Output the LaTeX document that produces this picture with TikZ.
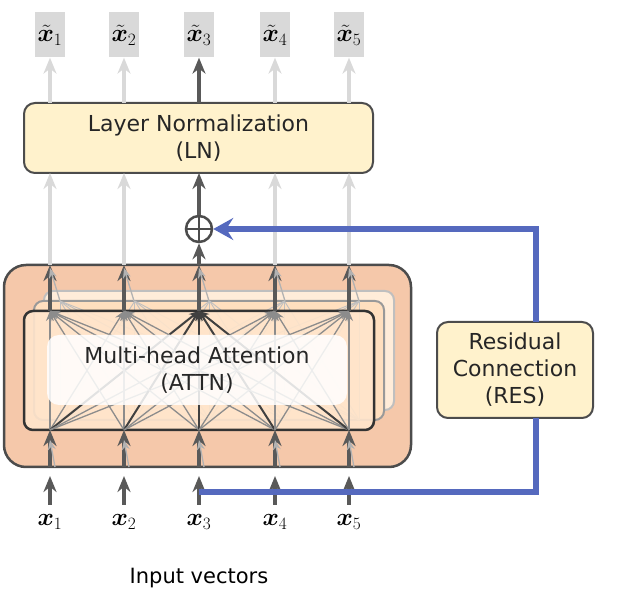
\documentclass[tikz,border=0pt]{standalone}
\usepackage{fontspec}
\usepackage{amsmath,bm}
\setmainfont{DejaVu Sans}
\usetikzlibrary{arrows.meta}
\definecolor{lnfill}{RGB}{255,242,204}
\definecolor{resblue}{RGB}{85,105,190}
\begin{document}
\begin{tikzpicture}[x=1pt,y=-1pt,
  box/.style={draw=black!70,line width=2pt,rounded corners=11pt,fill=lnfill},
  dk/.style={draw=black!65,line width=4pt,-{Stealth[length=16pt,width=13pt]}},
  lt/.style={draw=black!15,line width=4pt,-{Stealth[length=16pt,width=13pt]}},
  fan/.style={draw=black!45,line width=1.3pt,-{Stealth[length=10pt,width=8pt]}},
  lab/.style={font=\fontsize{22}{27}\selectfont,align=center,text=black!85},
  outb/.style={fill=black!15,minimum width=30pt,minimum height=45pt,inner sep=0pt,font=\fontsize{24}{28}\selectfont},
  res/.style={draw=resblue,line width=6pt}]
\useasboundingbox (0,0) rectangle (633,593);
\def\xs{50,124,199,275,349}
\foreach \x [count=\i] in \xs {\node[outb] (o\i) at (\x,35) {$\tilde{\bm{x}}_{\i}$};}
\foreach \x [count=\i] in \xs {\node[font=\fontsize{24}{28}\selectfont] (in\i) at (\x,522) {$\bm{x}_{\i}$};}
\node[font=\fontsize{21}{26}\selectfont] (iv) at (199,578) {Input vectors};
% attention block
\node[draw=black!70,line width=2.5pt,rounded corners=22pt,fill={rgb,255:red,245;green,200;blue,170},minimum width=407pt,minimum height=202pt] (attn) at (207.5,366) {};
\node[draw=black!25,line width=2pt,rounded corners=9pt,fill=white!85!orange,minimum width=350pt,minimum height=119pt] (h3) at (219,350.5) {};
\node[draw=black!40,line width=2pt,rounded corners=9pt,fill=white!75!orange,minimum width=350pt,minimum height=119pt] (h2) at (209,360.5) {};
\foreach \a in {0,1,2,3,4} \foreach \b in {0,1,2,3,4}{
  \draw[draw=black!25,line width=0.9pt] (60+74.8*\a,420)--(60+74.8*\b,301);}
\node[draw=black!80,line width=2.5pt,rounded corners=9pt,fill=white!80!orange,fill opacity=0.9,minimum width=350pt,minimum height=119pt] (h1) at (199,370.5) {};
\foreach \x [count=\i] in \xs {\coordinate (b\i) at (\x,430); \coordinate (t\i) at (\x,311);}
\foreach \i in {1,...,5} \foreach \j in {1,...,5}{
  \ifnum\j=3 \draw[fan,draw=black!75,line width=2pt] (b\i)--(t\j);
  \else \draw[fan] (b\i)--(t\j); \fi}
\node[fill=white,fill opacity=0.85,text opacity=1,rounded corners=12pt,minimum width=300pt,minimum height=70pt,lab] (al) at (197,370) {Multi-head Attention\\(ATTN)};
\foreach \x [count=\i] in \xs {
  \draw[dk] (\x,467)--(b\i);
  \draw[fan,draw=black!30] (\x+5,467)--(\x,440);
  \draw[dk] (t\i)--(\x,265);
  \draw[fan,draw=black!30] (\x+10,301)--(\x,268);
  \draw[dk] (\x,505)--(\x,476);}
% LN
\node[box,minimum width=349pt,minimum height=70pt,lab] (ln) at (198.5,138) {Layer Normalization\\(LN)};
\node[draw=black!70,line width=2.5pt,circle,fill=white,minimum size=26pt,inner sep=0pt] (add) at (199,229) {};
\draw[black!70,line width=2.5pt] (add.north)--(add.south) (add.west)--(add.east);
\foreach \x [count=\i] in \xs {
  \ifnum\i=3
    \draw[dk] (\x,265)--(add.south); \draw[dk] (add.north)--(\x,173); \draw[dk] (\x,103)--(o\i.south);
  \else
    \draw[lt] (\x,265)--(\x,173); \draw[lt] (\x,103)--(o\i.south);
  \fi}
% residual
\node[box,minimum width=156pt,minimum height=96pt,lab] (res) at (515,370) {Residual\\Connection\\(RES)};
\coordinate (rs) at (536,418); \coordinate (rn) at (536,322);
\coordinate (c1) at (536,492); \coordinate (c2) at (536,229); \coordinate (x3b) at (199,492);
\draw[res] (x3b)--(c1)--(rs);
\draw[res,-{Stealth[length=20pt,width=22pt,inset=7pt]}] (rn)--(c2)--(add.east);
\end{tikzpicture}
\end{document}
